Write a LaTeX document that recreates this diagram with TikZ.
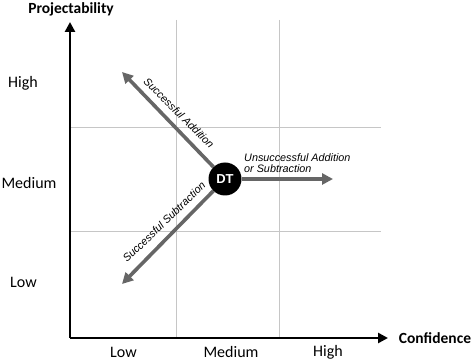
\documentclass[tikz,border=0pt]{standalone}
\usepackage{fontspec}
\setmainfont{Carlito}
\newfontfamily\arialfont{Liberation Sans}
\usetikzlibrary{arrows.meta}

\tikzstyle{axis}    = [line width=2.6pt, -{Triangle[length=10pt, width=10pt]}]
\tikzstyle{grid}    = [draw=gray!45, line width=0.7pt]
\tikzstyle{tick}    = [font=\fontsize{16}{18}\selectfont, inner sep=0pt]
\tikzstyle{axlabel} = [font=\fontsize{15.5}{17}\selectfont\bfseries, inner sep=0pt]
\tikzstyle{move}    = [draw=gray!80!black, line width=3.6pt
                      , -{Triangle[length=11pt, width=11pt]}]
\tikzstyle{movetxt} = [font=\arialfont\itshape\fontsize{10.8}{12}\selectfont, inner sep=0pt]

\begin{document}
\begin{tikzpicture}[x=1pt, y=-1pt]
\useasboundingbox (0,0) rectangle (474,363);

%% Grid
\coordinate (Origin) at (70,338);
\coordinate (Ytop) at (70,22);
\coordinate (Xend) at (388,338);
\draw [grid] (176,20) -- (176,338);
\draw [grid] (279,20) -- (279,338);
\draw [grid] (70,127) -- (381,127);
\draw [grid] (70,231) -- (381,231);

%% Axes
\draw [axis] (Origin) -- (Ytop);
\draw [axis] (Origin) -- (Xend);
\node [axlabel] (Projectability) at (71,9) {Projectability};
\node [axlabel] (Confidence) at (435,338) {Confidence};

%% Tick labels
\node [tick] (Y-High) at (23,83) {High};
\node [tick] (Y-Medium) at (29,183) {Medium};
\node [tick] (Y-Low) at (23.5,282) {Low};
\node [tick] (X-Low) at (123.5,352) {Low};
\node [tick] (X-Medium) at (231,352) {Medium};
\node [tick] (X-High) at (328,352) {High};

%% DT and its moves
\node [circle, fill=black, minimum size=33pt, inner sep=0pt, text=white
      , font=\arialfont\bfseries\fontsize{13}{15}\selectfont] (DT) at (225,179) {DT};
\coordinate (Addition-Tip) at (122,72);
\coordinate (Subtraction-Tip) at (122,284);
\coordinate (Unsuccessful-Tip) at (333,179);
\draw [move] (DT) -- (Addition-Tip);
\draw [move] (DT) -- (Subtraction-Tip);
\draw [move] (DT) -- (Unsuccessful-Tip);

\node [movetxt, rotate=-45] (Addition-Label) at (179,113) {Successful Addition};
\node [movetxt, rotate=44] (Subtraction-Label) at (164,222) {Successful Subtraction};
\node [movetxt, anchor=west, align=left] (Unsuccessful-Label) at (244,163)
      {Unsuccessful Addition\\[-1pt]or Subtraction};

\end{tikzpicture}
\end{document}
